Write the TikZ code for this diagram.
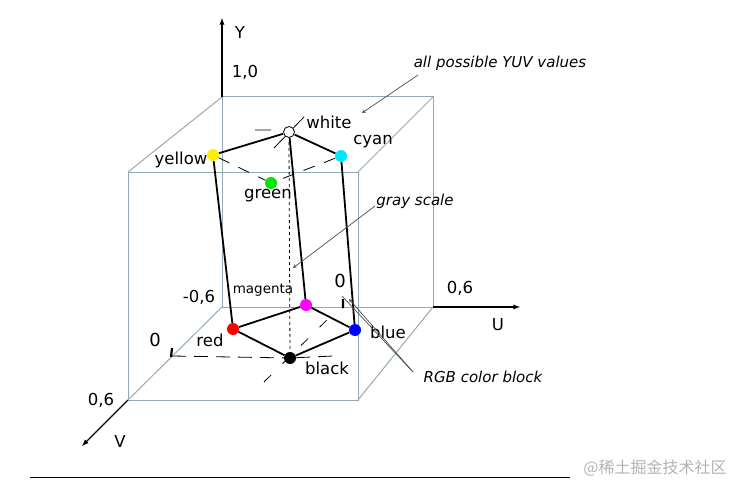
\documentclass[tikz,border=0pt]{standalone}
\usepackage{fontspec}
\setmainfont{DejaVu Sans}
\newfontfamily\cjk{Noto Sans CJK SC}
\definecolor{boxc}{RGB}{150,168,182}
\definecolor{mag}{RGB}{255,0,255}
\definecolor{cya}{RGB}{0,230,255}
\definecolor{yel}{RGB}{255,240,0}
\definecolor{gre}{RGB}{0,230,0}
\begin{document}
\begin{tikzpicture}[x=1pt,y=-1pt,
 box/.style={draw=boxc, line width=1pt},
 edge/.style={line width=1.8pt},
 dot/.style={circle, inner sep=0pt, minimum size=12pt},
 lab/.style={font=\fontsize{16.5}{18}\selectfont, inner sep=1pt},
 ann/.style={font=\itshape\fontsize{15}{17}\selectfont, inner sep=1pt},
 axis/.style={line width=1.3pt,-latex},
 pt/.style={line width=0.7pt, draw=gray!60!black}]
\useasboundingbox (0,0) rectangle (750,495);
% box
\draw[box] (128,172) rectangle (358,400);
\draw[box] (222,97) rectangle (433,307);
\draw[box] (128,172)--(222,97) (358,172)--(433,97) (358,400)--(433,307) (128,400)--(222,307);
% axes
\coordinate (ytip) at (222,18);
\draw[axis] (222,97)--(ytip);
\coordinate (utip) at (520,307);
\draw[axis] (433,307)--(utip);
\coordinate (vtip) at (82,446);
\draw[axis] (128,400)--(vtip);
\node[lab] (ly) at (240,32) {Y};
\node[lab] (l10) at (245,72) {1,0};
\node[lab] (lu) at (498,325) {U};
\node[lab] (l06u) at (460,288) {0,6};
\node[lab] (lv) at (120,441) {V};
\node[lab] (l06v) at (101,400) {0,6};
\node[lab] (lm06) at (199,297) {-0,6};
\node[lab,font=\fontsize{18}{20}\selectfont] (z1) at (155,340) {0};
\node[lab,font=\fontsize{18}{20}\selectfont] (z2) at (340,281) {0};
\draw[line width=2.2pt] (172,348)--(171,357) (343,299)--(343,308);
% dots
\node[dot] (white) at (289,132) {};
\node[dot,fill=yel] (yellow) at (213,155) {};
\node[dot,fill=cya] (cyan) at (341,156) {};
\node[dot,fill=gre] (green) at (271,183) {};
\node[dot,fill=mag] (magenta) at (306,305) {};
\node[dot,fill=red] (red) at (233,329) {};
\node[dot,fill=blue] (blue) at (355,330) {};
\node[dot,fill=black] (black) at (290,358) {};
% dashed
\draw[line width=0.8pt,dash pattern=on 12pt off 10pt] (yellow)--(green) (cyan)--(green);
\draw[line width=0.8pt,dashed] (289,142)--(black);
\draw[line width=0.8pt,dash pattern=on 14pt off 8pt] (172,356)--(black) (black)--(333,356);
\draw[line width=0.8pt,dash pattern=on 10pt off 16pt] (264,382)--(335,312);
\draw[line width=0.8pt] (274,148)--(304,117) (255,130)--(271,130);
% edges
\draw[edge] (white)--(yellow) (white)--(cyan) (yellow)--(red) (cyan)--(blue)
 (white)--(magenta) (red)--(magenta) (magenta)--(blue) (red)--(black) (black)--(blue);
\draw[fill=white,draw=black,line width=0.8pt] (white) circle (5.5pt);
% labels
\node[lab] at (329,122) {white};
\node[lab] at (373,142) {cyan};
\node[lab] at (181,160) {yellow};
\node[lab] at (268,196) {green};
\node[lab,font=\fontsize{13.5}{15}\selectfont] at (263,290) {magenta};
\node[lab] at (210,340) {red};
\node[lab] at (388,332) {blue};
\node[lab] at (327,368) {black};
% annotations
\node[ann] (a1) at (500,63) {all possible YUV values};
\draw[pt,-stealth] (418,75)--(362,113);
\node[ann] (a2) at (415,201) {gray scale};
\draw[pt,-stealth] (375,206)--(293,268);
\node[ann] (a3) at (483,377) {RGB color block};
\draw[pt,-stealth] (413,372)--(349,299);
\draw[pt] (413,372)--(342,296);
% bottom
\draw[line width=0.8pt] (30,477)--(570,477);
\node[font=\cjk\fontsize{16}{18}\selectfont, text=gray!60] at (655,468) {@稀土掘金技术社区};
\end{tikzpicture}
\end{document}
